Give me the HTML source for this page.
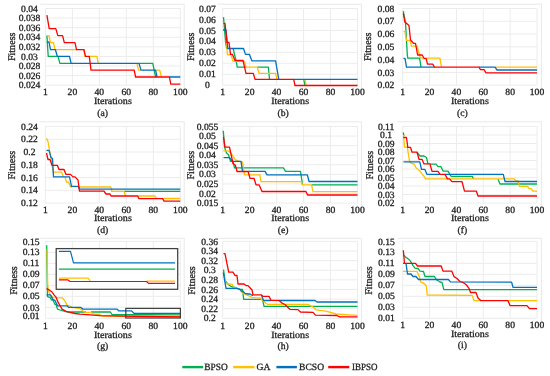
<!DOCTYPE html>
<html><head><meta charset="utf-8"><style>
html,body{margin:0;padding:0;background:#fff;}
body{width:550px;height:376px;overflow:hidden;}
svg{display:block;will-change:transform;}
text{font-family:"Liberation Serif",serif;fill:#1e1e1e;text-rendering:geometricPrecision;stroke:#1e1e1e;stroke-width:0.3px;}
</style></head><body>
<svg width="550" height="376" viewBox="0 0 550 376">
<rect width="550" height="376" fill="#fff"/>
<path d="M40.2 4.2H184.2V95.2" fill="none" stroke="#E8E8E8" stroke-width="1"/>
<path d="M45.4 8.50H180.3M45.4 18.09H180.3M45.4 27.68H180.3M45.4 37.26H180.3M45.4 46.85H180.3M45.4 56.44H180.3M45.4 66.03H180.3M45.4 75.61H180.3M45.4 85.20H180.3M45.40 8.5V85.2M72.38 8.5V85.2M99.36 8.5V85.2M126.34 8.5V85.2M153.32 8.5V85.2M180.30 8.5V85.2" fill="none" stroke="#ECECEC" stroke-width="1"/>
<path d="M46.90 35.60L48.20 56.30L57.30 56.30M58.00 56.30L59.90 63.40L71.10 63.40M139.00 63.40L152.80 63.40L155.60 77.00" fill="none" stroke="#00B050" stroke-width="1.3" stroke-linejoin="round"/>
<path d="M46.90 35.60L49.00 35.60L50.50 42.60L53.50 42.60L55.00 49.70M55.40 49.70L76.50 49.70M83.50 49.70L85.00 56.30L85.50 56.30M89.30 56.30L96.90 56.30L98.30 63.40M137.00 63.40L138.50 70.10L141.00 70.10M155.60 70.10L159.70 70.10L161.50 77.00" fill="none" stroke="#FFC000" stroke-width="1.3" stroke-linejoin="round"/>
<path d="M46.90 42.00L49.00 42.00L50.50 49.70L55.40 49.70L57.30 56.30L69.50 56.30L71.10 63.40L139.00 63.40L141.00 70.10L155.60 70.10L157.00 77.00M169.40 77.00L180.30 77.00" fill="none" stroke="#0070C0" stroke-width="1.3" stroke-linejoin="round"/>
<path d="M46.90 15.20L49.20 28.60L55.80 28.60L57.80 35.60L62.60 35.60L64.30 42.60L75.00 42.60L76.50 49.70L84.00 49.70L85.50 56.30L89.30 56.30L91.00 70.20L134.20 70.20L135.60 77.00L169.40 77.00L170.80 84.20L180.30 84.20" fill="none" stroke="#FF0000" stroke-width="1.3" stroke-linejoin="round"/>
<text x="29.50" y="11.60" font-size="9.6" text-anchor="middle">0.04</text>
<text x="29.50" y="21.19" font-size="9.6" text-anchor="middle">0.038</text>
<text x="29.50" y="30.77" font-size="9.6" text-anchor="middle">0.036</text>
<text x="29.50" y="40.36" font-size="9.6" text-anchor="middle">0.034</text>
<text x="29.50" y="49.95" font-size="9.6" text-anchor="middle">0.032</text>
<text x="29.50" y="59.54" font-size="9.6" text-anchor="middle">0.03</text>
<text x="29.50" y="69.13" font-size="9.6" text-anchor="middle">0.028</text>
<text x="29.50" y="78.71" font-size="9.6" text-anchor="middle">0.026</text>
<text x="29.50" y="88.30" font-size="9.6" text-anchor="middle">0.024</text>
<text x="45.40" y="95.10" font-size="9.6" text-anchor="middle">1</text>
<text x="72.38" y="95.10" font-size="9.6" text-anchor="middle">20</text>
<text x="99.36" y="95.10" font-size="9.6" text-anchor="middle">40</text>
<text x="126.34" y="95.10" font-size="9.6" text-anchor="middle">60</text>
<text x="153.32" y="95.10" font-size="9.6" text-anchor="middle">80</text>
<text x="180.30" y="95.10" font-size="9.6" text-anchor="middle">100</text>
<text x="112.85" y="104.00" font-size="9.7" text-anchor="middle" textLength="37.9" lengthAdjust="spacingAndGlyphs">Iterations</text>
<text x="102.70" y="115.70" font-size="9.7" text-anchor="middle">(a)</text>
<text x="0" y="0" font-size="10.3" text-anchor="middle" textLength="28.6" lengthAdjust="spacingAndGlyphs" transform="translate(15.4,46.8) rotate(-90)">Fitness</text>
<path d="M217.5 4.2H361.4V95.2" fill="none" stroke="#E8E8E8" stroke-width="1"/>
<path d="M222.7 8.50H357.5M222.7 19.46H357.5M222.7 30.41H357.5M222.7 41.37H357.5M222.7 52.33H357.5M222.7 63.29H357.5M222.7 74.24H357.5M222.7 85.20H357.5M222.70 8.5V85.2M249.66 8.5V85.2M276.62 8.5V85.2M303.58 8.5V85.2M330.54 8.5V85.2M357.50 8.5V85.2" fill="none" stroke="#ECECEC" stroke-width="1"/>
<path d="M223.50 17.10L225.50 41.00L226.50 48.20L227.80 48.20M233.00 48.20L236.50 62.70L237.20 67.20L246.00 67.20M257.30 67.20L268.40 67.20L269.50 79.30M303.80 79.30L305.00 85.50" fill="none" stroke="#00B050" stroke-width="1.3" stroke-linejoin="round"/>
<path d="M226.30 40.00L227.50 54.70L230.50 54.70M231.00 54.70L233.00 61.30L244.50 61.30L246.00 67.20L257.30 67.20L259.00 73.40L275.60 73.40L277.00 79.30M305.00 79.30L306.20 85.50" fill="none" stroke="#FFC000" stroke-width="1.3" stroke-linejoin="round"/>
<path d="M223.00 30.00L226.00 30.00L227.80 48.50L243.50 48.50L245.50 54.40L249.50 54.40L252.00 60.90L275.60 60.90L277.50 72.00L278.80 79.30M293.70 79.30L357.50 79.30" fill="none" stroke="#0070C0" stroke-width="1.3" stroke-linejoin="round"/>
<path d="M223.50 23.40L225.00 23.40L227.00 42.40L229.00 42.40L230.50 54.40L232.50 54.40L235.00 60.50L243.00 60.50L246.00 73.40L253.30 73.40L255.00 79.30L293.70 79.30L295.00 85.50L357.50 85.50" fill="none" stroke="#FF0000" stroke-width="1.3" stroke-linejoin="round"/>
<text x="207.50" y="11.60" font-size="9.6" text-anchor="middle">0.07</text>
<text x="207.50" y="22.56" font-size="9.6" text-anchor="middle">0.06</text>
<text x="207.50" y="33.51" font-size="9.6" text-anchor="middle">0.05</text>
<text x="207.50" y="44.47" font-size="9.6" text-anchor="middle">0.04</text>
<text x="207.50" y="55.43" font-size="9.6" text-anchor="middle">0.03</text>
<text x="207.50" y="66.39" font-size="9.6" text-anchor="middle">0.02</text>
<text x="207.50" y="77.34" font-size="9.6" text-anchor="middle">0.01</text>
<text x="207.50" y="88.30" font-size="9.6" text-anchor="middle">0</text>
<text x="222.70" y="95.10" font-size="9.6" text-anchor="middle">1</text>
<text x="249.66" y="95.10" font-size="9.6" text-anchor="middle">20</text>
<text x="276.62" y="95.10" font-size="9.6" text-anchor="middle">40</text>
<text x="303.58" y="95.10" font-size="9.6" text-anchor="middle">60</text>
<text x="330.54" y="95.10" font-size="9.6" text-anchor="middle">80</text>
<text x="357.50" y="95.10" font-size="9.6" text-anchor="middle">100</text>
<text x="290.10" y="104.00" font-size="9.7" text-anchor="middle" textLength="37.9" lengthAdjust="spacingAndGlyphs">Iterations</text>
<text x="283.20" y="115.70" font-size="9.7" text-anchor="middle">(b)</text>
<text x="0" y="0" font-size="10.3" text-anchor="middle" textLength="28.6" lengthAdjust="spacingAndGlyphs" transform="translate(193.9,46.8) rotate(-90)">Fitness</text>
<path d="M397.5 4.2H541.4V95.2" fill="none" stroke="#E8E8E8" stroke-width="1"/>
<path d="M402.7 8.50H537.0M402.7 21.28H537.0M402.7 34.07H537.0M402.7 46.85H537.0M402.7 59.63H537.0M402.7 72.42H537.0M402.7 85.20H537.0M402.70 8.5V85.2M429.56 8.5V85.2M456.42 8.5V85.2M483.28 8.5V85.2M510.14 8.5V85.2M537.00 8.5V85.2" fill="none" stroke="#ECECEC" stroke-width="1"/>
<path d="M403.30 11.10L405.50 22.40L407.30 55.00L407.80 58.20L419.60 58.20L421.00 67.20" fill="none" stroke="#00B050" stroke-width="1.3" stroke-linejoin="round"/>
<path d="M403.50 31.30L405.00 31.30L406.50 40.40L410.00 40.40L411.50 46.20L417.00 46.20L420.30 57.50L422.00 58.20L424.00 58.20M426.10 58.20L439.90 58.20L441.50 67.20M495.00 67.20L537.00 67.20" fill="none" stroke="#FFC000" stroke-width="1.3" stroke-linejoin="round"/>
<path d="M403.50 58.30L405.00 58.30L406.50 67.20L434.50 67.20M479.10 67.20L495.00 67.20L497.00 70.00L537.00 70.00" fill="none" stroke="#0070C0" stroke-width="1.3" stroke-linejoin="round"/>
<path d="M403.30 13.30L404.80 22.00L407.00 23.80L409.00 25.60L410.50 40.00L412.00 41.50L413.50 43.30L415.50 43.30L417.60 55.00L422.20 55.00L424.00 58.30L426.10 58.30L427.50 64.20L432.70 64.20L434.50 67.20L479.10 67.20L480.50 69.70L484.00 69.70L486.00 72.90L537.00 72.90" fill="none" stroke="#FF0000" stroke-width="1.3" stroke-linejoin="round"/>
<text x="386.00" y="11.60" font-size="9.6" text-anchor="middle">0.08</text>
<text x="386.00" y="24.38" font-size="9.6" text-anchor="middle">0.07</text>
<text x="386.00" y="37.17" font-size="9.6" text-anchor="middle">0.06</text>
<text x="386.00" y="49.95" font-size="9.6" text-anchor="middle">0.05</text>
<text x="386.00" y="62.73" font-size="9.6" text-anchor="middle">0.04</text>
<text x="386.00" y="75.52" font-size="9.6" text-anchor="middle">0.03</text>
<text x="386.00" y="88.30" font-size="9.6" text-anchor="middle">0.02</text>
<text x="402.70" y="95.10" font-size="9.6" text-anchor="middle">1</text>
<text x="429.56" y="95.10" font-size="9.6" text-anchor="middle">20</text>
<text x="456.42" y="95.10" font-size="9.6" text-anchor="middle">40</text>
<text x="483.28" y="95.10" font-size="9.6" text-anchor="middle">60</text>
<text x="510.14" y="95.10" font-size="9.6" text-anchor="middle">80</text>
<text x="537.00" y="95.10" font-size="9.6" text-anchor="middle">100</text>
<text x="469.85" y="104.00" font-size="9.7" text-anchor="middle" textLength="37.9" lengthAdjust="spacingAndGlyphs">Iterations</text>
<text x="462.40" y="115.70" font-size="9.7" text-anchor="middle">(c)</text>
<text x="0" y="0" font-size="10.3" text-anchor="middle" textLength="28.6" lengthAdjust="spacingAndGlyphs" transform="translate(371.1,46.8) rotate(-90)">Fitness</text>
<path d="M40.2 121.8H184.2V213.1" fill="none" stroke="#E8E8E8" stroke-width="1"/>
<path d="M45.4 126.50H180.3M45.4 139.27H180.3M45.4 152.03H180.3M45.4 164.80H180.3M45.4 177.57H180.3M45.4 190.33H180.3M45.4 203.10H180.3M45.40 126.5V203.1M72.38 126.5V203.1M99.36 126.5V203.1M126.34 126.5V203.1M153.32 126.5V203.1M180.30 126.5V203.1" fill="none" stroke="#ECECEC" stroke-width="1"/>
<path d="M111.50 191.40L112.00 191.40M124.00 191.40L180.30 191.40" fill="none" stroke="#00B050" stroke-width="1.3" stroke-linejoin="round"/>
<path d="M46.50 138.40L48.00 141.50L49.50 150.40L51.00 157.00L52.00 165.30L53.50 172.20L61.50 172.20L63.50 176.90M65.00 176.90L66.50 182.00L68.50 182.00L70.50 187.00L71.50 187.00M78.00 187.00L110.70 187.00L112.00 191.30L124.00 191.30L125.50 196.00M137.70 196.00L155.00 196.00L156.50 198.50M162.60 198.50L180.30 198.50" fill="none" stroke="#FFC000" stroke-width="1.3" stroke-linejoin="round"/>
<path d="M46.50 150.40L49.00 150.40L51.00 157.60L52.50 158.50L53.50 176.90L69.50 176.90L71.50 186.40L78.00 186.40L79.50 189.20L180.30 189.20" fill="none" stroke="#0070C0" stroke-width="1.3" stroke-linejoin="round"/>
<path d="M46.50 153.00L48.00 159.50L50.00 159.50L52.00 165.30L57.30 165.30L59.00 169.50L64.00 169.50L66.00 174.40L70.50 174.40L73.00 176.90L75.00 176.90L78.00 180.00L79.50 191.20L104.00 191.20L106.00 194.00L110.00 194.00L111.00 196.00L137.70 196.00L139.00 198.70L162.60 198.70L164.00 201.10L180.30 201.10" fill="none" stroke="#FF0000" stroke-width="1.3" stroke-linejoin="round"/>
<text x="29.50" y="129.60" font-size="9.6" text-anchor="middle">0.24</text>
<text x="29.50" y="142.37" font-size="9.6" text-anchor="middle">0.22</text>
<text x="29.50" y="155.13" font-size="9.6" text-anchor="middle">0.2</text>
<text x="29.50" y="167.90" font-size="9.6" text-anchor="middle">0.18</text>
<text x="29.50" y="180.67" font-size="9.6" text-anchor="middle">0.16</text>
<text x="29.50" y="193.43" font-size="9.6" text-anchor="middle">0.14</text>
<text x="29.50" y="206.20" font-size="9.6" text-anchor="middle">0.12</text>
<text x="45.40" y="212.80" font-size="9.6" text-anchor="middle">1</text>
<text x="72.38" y="212.80" font-size="9.6" text-anchor="middle">20</text>
<text x="99.36" y="212.80" font-size="9.6" text-anchor="middle">40</text>
<text x="126.34" y="212.80" font-size="9.6" text-anchor="middle">60</text>
<text x="153.32" y="212.80" font-size="9.6" text-anchor="middle">80</text>
<text x="180.30" y="212.80" font-size="9.6" text-anchor="middle">100</text>
<text x="112.85" y="220.60" font-size="9.7" text-anchor="middle" textLength="37.9" lengthAdjust="spacingAndGlyphs">Iterations</text>
<text x="102.70" y="232.50" font-size="9.7" text-anchor="middle">(d)</text>
<text x="0" y="0" font-size="10.3" text-anchor="middle" textLength="28.6" lengthAdjust="spacingAndGlyphs" transform="translate(14.8,165.2) rotate(-90)">Fitness</text>
<path d="M217.5 121.8H361.4V213.1" fill="none" stroke="#E8E8E8" stroke-width="1"/>
<path d="M222.7 126.50H357.5M222.7 136.07H357.5M222.7 145.65H357.5M222.7 155.22H357.5M222.7 164.80H357.5M222.7 174.38H357.5M222.7 183.95H357.5M222.7 193.52H357.5M222.7 203.10H357.5M222.70 126.5V203.1M249.66 126.5V203.1M276.62 126.5V203.1M303.58 126.5V203.1M330.54 126.5V203.1M357.50 126.5V203.1" fill="none" stroke="#ECECEC" stroke-width="1"/>
<path d="M223.30 130.70L224.50 147.10L226.50 153.00L228.50 154.70L230.50 161.30L232.50 161.30M233.00 161.30L234.50 167.80L283.40 167.80L285.50 171.40L300.50 171.40L302.50 184.90M311.60 184.90L357.50 184.90" fill="none" stroke="#00B050" stroke-width="1.3" stroke-linejoin="round"/>
<path d="M223.30 150.90L228.50 150.90L232.00 154.70L235.50 159.80L240.00 161.60L242.50 162.00L244.50 174.80L259.90 174.80L261.00 181.60L301.20 181.60L302.50 184.90L311.60 184.90L313.00 191.60L357.50 191.60" fill="none" stroke="#FFC000" stroke-width="1.3" stroke-linejoin="round"/>
<path d="M223.50 157.60L229.50 157.60L232.50 161.30L241.00 161.30L242.50 171.40M248.10 171.40L265.10 171.40L267.00 174.90L307.40 174.90L309.00 181.50L357.50 181.50" fill="none" stroke="#0070C0" stroke-width="1.3" stroke-linejoin="round"/>
<path d="M223.50 136.90L225.00 147.10L229.50 147.10L233.00 163.50L235.50 165.60L237.00 171.50L248.10 171.50L250.00 178.30L254.00 178.30L256.00 184.80L259.00 184.80L262.00 191.50L306.00 191.50L307.50 195.00L357.50 195.00" fill="none" stroke="#FF0000" stroke-width="1.3" stroke-linejoin="round"/>
<text x="207.50" y="129.60" font-size="9.6" text-anchor="middle">0.055</text>
<text x="207.50" y="139.17" font-size="9.6" text-anchor="middle">0.05</text>
<text x="207.50" y="148.75" font-size="9.6" text-anchor="middle">0.045</text>
<text x="207.50" y="158.32" font-size="9.6" text-anchor="middle">0.04</text>
<text x="207.50" y="167.90" font-size="9.6" text-anchor="middle">0.035</text>
<text x="207.50" y="177.47" font-size="9.6" text-anchor="middle">0.03</text>
<text x="207.50" y="187.05" font-size="9.6" text-anchor="middle">0.025</text>
<text x="207.50" y="196.62" font-size="9.6" text-anchor="middle">0.02</text>
<text x="207.50" y="206.20" font-size="9.6" text-anchor="middle">0.015</text>
<text x="222.70" y="213.40" font-size="9.6" text-anchor="middle">1</text>
<text x="249.66" y="213.40" font-size="9.6" text-anchor="middle">20</text>
<text x="276.62" y="213.40" font-size="9.6" text-anchor="middle">40</text>
<text x="303.58" y="213.40" font-size="9.6" text-anchor="middle">60</text>
<text x="330.54" y="213.40" font-size="9.6" text-anchor="middle">80</text>
<text x="357.50" y="213.40" font-size="9.6" text-anchor="middle">100</text>
<text x="290.10" y="221.20" font-size="9.7" text-anchor="middle" textLength="37.9" lengthAdjust="spacingAndGlyphs">Iterations</text>
<text x="283.20" y="233.10" font-size="9.7" text-anchor="middle">(e)</text>
<text x="0" y="0" font-size="10.3" text-anchor="middle" textLength="28.6" lengthAdjust="spacingAndGlyphs" transform="translate(193.9,165.2) rotate(-90)">Fitness</text>
<path d="M397.5 121.8H541.4V213.1" fill="none" stroke="#E8E8E8" stroke-width="1"/>
<path d="M402.7 126.50H537.0M402.7 135.01H537.0M402.7 143.52H537.0M402.7 152.03H537.0M402.7 160.54H537.0M402.7 169.06H537.0M402.7 177.57H537.0M402.7 186.08H537.0M402.7 194.59H537.0M402.7 203.10H537.0M402.70 126.5V203.1M429.56 126.5V203.1M456.42 126.5V203.1M483.28 126.5V203.1M510.14 126.5V203.1M537.00 126.5V203.1" fill="none" stroke="#ECECEC" stroke-width="1"/>
<path d="M403.30 132.40L403.90 136.20M417.00 152.20L420.00 156.00L424.00 156.00L426.50 157.50L428.00 164.10M430.00 164.10L436.00 164.10L438.00 166.70L441.00 166.70L443.00 171.10L448.00 171.10L451.00 176.30L472.20 176.30L473.50 179.00M498.00 179.00L500.00 184.00L537.00 184.00" fill="none" stroke="#00B050" stroke-width="1.3" stroke-linejoin="round"/>
<path d="M403.50 134.90L404.50 147.10L407.30 147.10L409.50 161.00L411.50 163.50L414.00 163.90L416.00 167.80L420.00 171.10L424.00 176.30L425.50 178.90L447.50 178.90M449.50 178.90L514.30 178.90L515.50 180.80L518.00 180.80L519.50 186.30L527.50 186.30L529.00 188.70L531.00 188.70L533.00 191.10L537.00 191.10" fill="none" stroke="#FFC000" stroke-width="1.3" stroke-linejoin="round"/>
<path d="M403.50 161.90L419.80 161.90L421.50 169.30L424.80 169.30L427.00 174.40L440.00 174.40M445.00 174.40L503.30 174.40L505.00 181.50L537.00 181.50" fill="none" stroke="#0070C0" stroke-width="1.3" stroke-linejoin="round"/>
<path d="M403.30 137.50L406.50 137.50L407.80 147.30L410.50 147.30L412.00 152.20L417.00 152.20L419.00 159.30L422.00 159.30L424.00 163.90L430.00 163.90L432.00 171.40L438.00 171.40L440.00 174.40L445.00 174.40L447.50 178.90L449.50 178.90L452.00 181.60L462.00 181.60L464.50 191.20L476.40 191.20L478.00 196.00L537.00 196.00" fill="none" stroke="#FF0000" stroke-width="1.3" stroke-linejoin="round"/>
<text x="386.10" y="129.60" font-size="9.6" text-anchor="middle">0.11</text>
<text x="386.10" y="138.11" font-size="9.6" text-anchor="middle">0.1</text>
<text x="386.10" y="146.62" font-size="9.6" text-anchor="middle">0.09</text>
<text x="386.10" y="155.13" font-size="9.6" text-anchor="middle">0.08</text>
<text x="386.10" y="163.64" font-size="9.6" text-anchor="middle">0.07</text>
<text x="386.10" y="172.16" font-size="9.6" text-anchor="middle">0.06</text>
<text x="386.10" y="180.67" font-size="9.6" text-anchor="middle">0.05</text>
<text x="386.10" y="189.18" font-size="9.6" text-anchor="middle">0.04</text>
<text x="386.10" y="197.69" font-size="9.6" text-anchor="middle">0.03</text>
<text x="386.10" y="206.20" font-size="9.6" text-anchor="middle">0.02</text>
<text x="402.70" y="213.40" font-size="9.6" text-anchor="middle">1</text>
<text x="429.56" y="213.40" font-size="9.6" text-anchor="middle">20</text>
<text x="456.42" y="213.40" font-size="9.6" text-anchor="middle">40</text>
<text x="483.28" y="213.40" font-size="9.6" text-anchor="middle">60</text>
<text x="510.14" y="213.40" font-size="9.6" text-anchor="middle">80</text>
<text x="537.00" y="213.40" font-size="9.6" text-anchor="middle">100</text>
<text x="469.85" y="221.20" font-size="9.7" text-anchor="middle" textLength="37.9" lengthAdjust="spacingAndGlyphs">Iterations</text>
<text x="462.40" y="233.10" font-size="9.7" text-anchor="middle">(f)</text>
<text x="0" y="0" font-size="10.3" text-anchor="middle" textLength="28.6" lengthAdjust="spacingAndGlyphs" transform="translate(372.5,165.2) rotate(-90)">Fitness</text>
<path d="M40.2 238.3H184.2V328.3" fill="none" stroke="#E8E8E8" stroke-width="1"/>
<path d="M45.4 241.40H180.3M45.4 252.39H180.3M45.4 263.37H180.3M45.4 274.36H180.3M45.4 285.34H180.3M45.4 296.33H180.3M45.4 307.31H180.3M45.4 318.30H180.3M45.40 241.4V318.3M72.38 241.4V318.3M99.36 241.4V318.3M126.34 241.4V318.3M153.32 241.4V318.3M180.30 241.4V318.3" fill="none" stroke="#ECECEC" stroke-width="1"/>
<path d="M46.70 245.20L47.50 296.50L48.50 297.10L50.00 297.10L51.50 300.00L53.00 300.00L55.00 304.40L56.00 304.40L57.50 309.10L60.00 310.00L64.00 311.20L68.00 312.00L86.00 312.00M91.00 312.00L110.40 312.00L112.00 314.50L180.30 314.80" fill="none" stroke="#00B050" stroke-width="1.3" stroke-linejoin="round"/>
<path d="M47.00 249.00L47.70 285.00L48.50 291.30L50.50 294.90L53.00 297.60L62.50 297.80L65.00 301.10L67.00 305.10L70.00 306.20L72.00 307.30L80.00 308.70L81.00 309.50L83.50 311.60L86.00 312.40L91.00 312.40L93.00 313.80L100.00 314.50L102.00 316.00L180.30 316.40" fill="none" stroke="#FFC000" stroke-width="1.3" stroke-linejoin="round"/>
<path d="M46.50 294.90L50.50 294.90L53.00 299.60L55.00 300.40L57.50 305.80L67.00 305.80L68.50 307.30L80.50 307.30L83.00 309.10L116.80 309.10L119.00 310.90L131.50 310.90L134.00 313.30L180.30 313.30" fill="none" stroke="#0070C0" stroke-width="1.3" stroke-linejoin="round"/>
<path d="M46.50 288.70L49.00 289.80L52.00 292.00L54.00 294.90L56.00 297.10L58.00 302.20L60.50 306.50L62.00 309.10L66.00 311.30L70.00 312.40L75.00 313.50L80.00 314.20L90.00 314.90L100.00 315.60L146.60 316.50L180.30 316.80" fill="none" stroke="#FF0000" stroke-width="1.3" stroke-linejoin="round"/>
<rect x="56.2" y="248.6" width="121.5" height="40.7" fill="#fff" stroke="#404040" stroke-width="1.25"/>
<path d="M58.90 269.10L175.00 269.10" fill="none" stroke="#00B050" stroke-width="1.2" stroke-linejoin="round"/>
<path d="M58.90 278.10L88.30 278.10L90.10 281.10M146.60 281.10L175.00 281.10" fill="none" stroke="#FFC000" stroke-width="1.2" stroke-linejoin="round"/>
<path d="M58.90 251.30L70.50 251.30L73.50 262.90L175.00 262.90" fill="none" stroke="#0070C0" stroke-width="1.2" stroke-linejoin="round"/>
<path d="M58.90 279.80L67.60 279.80L70.10 281.50L146.60 281.50L148.50 283.40L175.00 283.40" fill="none" stroke="#FF0000" stroke-width="1.2" stroke-linejoin="round"/>
<rect x="125.8" y="308.4" width="54.6" height="9.6" fill="none" stroke="#404040" stroke-width="1.2"/>
<text x="31.10" y="244.50" font-size="9.6" text-anchor="middle">0.15</text>
<text x="31.10" y="255.49" font-size="9.6" text-anchor="middle">0.13</text>
<text x="31.10" y="266.47" font-size="9.6" text-anchor="middle">0.11</text>
<text x="31.10" y="277.46" font-size="9.6" text-anchor="middle">0.09</text>
<text x="31.10" y="288.44" font-size="9.6" text-anchor="middle">0.07</text>
<text x="31.10" y="299.43" font-size="9.6" text-anchor="middle">0.05</text>
<text x="31.10" y="311.00" font-size="9.6" text-anchor="middle">0.03</text>
<text x="31.10" y="319.30" font-size="9.6" text-anchor="middle">0.01</text>
<text x="45.40" y="328.70" font-size="9.6" text-anchor="middle">1</text>
<text x="72.38" y="328.70" font-size="9.6" text-anchor="middle">20</text>
<text x="99.36" y="328.70" font-size="9.6" text-anchor="middle">40</text>
<text x="126.34" y="328.70" font-size="9.6" text-anchor="middle">60</text>
<text x="153.32" y="328.70" font-size="9.6" text-anchor="middle">80</text>
<text x="180.30" y="328.70" font-size="9.6" text-anchor="middle">100</text>
<text x="112.85" y="337.80" font-size="9.7" text-anchor="middle" textLength="37.9" lengthAdjust="spacingAndGlyphs">Iterations</text>
<text x="102.70" y="348.90" font-size="9.7" text-anchor="middle">(g)</text>
<text x="0" y="0" font-size="10.3" text-anchor="middle" textLength="28.6" lengthAdjust="spacingAndGlyphs" transform="translate(16.9,280.5) rotate(-90)">Fitness</text>
<path d="M217.5 238.3H361.4V328.3" fill="none" stroke="#E8E8E8" stroke-width="1"/>
<path d="M222.7 241.40H357.5M222.7 251.01H357.5M222.7 260.62H357.5M222.7 270.24H357.5M222.7 279.85H357.5M222.7 289.46H357.5M222.7 299.07H357.5M222.7 308.69H357.5M222.7 318.30H357.5M222.70 241.4V318.3M249.66 241.4V318.3M276.62 241.4V318.3M303.58 241.4V318.3M330.54 241.4V318.3M357.50 241.4V318.3" fill="none" stroke="#ECECEC" stroke-width="1"/>
<path d="M223.50 269.60L225.00 280.50L228.00 284.20L231.00 286.40L235.00 287.50L240.00 289.30L242.50 289.30L243.70 299.30L262.50 299.30L264.00 306.30L357.50 306.30" fill="none" stroke="#00B050" stroke-width="1.3" stroke-linejoin="round"/>
<path d="M224.50 276.90L226.00 283.50L230.00 284.20L232.00 284.20L234.00 287.30L236.00 288.00L240.00 290.00L242.00 292.50L244.00 294.00L249.00 295.80L252.00 297.30L256.00 297.80L260.00 297.80L263.00 300.80L266.00 303.50L268.00 304.40L308.10 304.40L313.00 307.10L316.00 309.80L326.00 311.20L336.00 314.00L345.00 314.70L357.50 315.40" fill="none" stroke="#FFC000" stroke-width="1.3" stroke-linejoin="round"/>
<path d="M223.30 272.50L226.00 288.30L237.00 288.30L240.00 289.30L241.50 291.10L243.00 291.50L245.00 293.30L248.00 294.00L250.00 294.00L252.00 295.30L253.00 295.30M261.00 295.30L261.50 295.30L263.50 300.50L271.00 300.50M279.00 300.50L315.00 300.50L317.00 302.00L357.50 302.00" fill="none" stroke="#0070C0" stroke-width="1.3" stroke-linejoin="round"/>
<path d="M223.50 253.70L225.00 253.70L228.70 272.20L233.00 272.20L235.00 275.50L237.00 275.50L238.00 284.00L244.00 284.00L246.00 285.60L248.00 285.60L250.00 287.80L252.00 290.00L253.00 294.90L261.00 294.90L263.00 296.30L269.00 296.30L271.00 300.40L279.00 300.40L282.00 303.10L285.00 304.50L288.00 307.50L290.00 309.30L298.00 309.60L300.50 312.00L313.00 312.30L315.50 315.20L337.00 315.50L339.50 316.80L357.50 316.80" fill="none" stroke="#FF0000" stroke-width="1.3" stroke-linejoin="round"/>
<text x="209.70" y="244.50" font-size="9.6" text-anchor="middle">0.36</text>
<text x="209.70" y="254.11" font-size="9.6" text-anchor="middle">0.34</text>
<text x="209.70" y="263.72" font-size="9.6" text-anchor="middle">0.32</text>
<text x="209.70" y="273.34" font-size="9.6" text-anchor="middle">0.3</text>
<text x="209.70" y="282.95" font-size="9.6" text-anchor="middle">0.28</text>
<text x="209.70" y="292.56" font-size="9.6" text-anchor="middle">0.26</text>
<text x="209.70" y="302.17" font-size="9.6" text-anchor="middle">0.24</text>
<text x="209.70" y="311.79" font-size="9.6" text-anchor="middle">0.22</text>
<text x="209.70" y="321.40" font-size="9.6" text-anchor="middle">0.2</text>
<text x="222.70" y="328.70" font-size="9.6" text-anchor="middle">1</text>
<text x="249.66" y="328.70" font-size="9.6" text-anchor="middle">20</text>
<text x="276.62" y="328.70" font-size="9.6" text-anchor="middle">40</text>
<text x="303.58" y="328.70" font-size="9.6" text-anchor="middle">60</text>
<text x="330.54" y="328.70" font-size="9.6" text-anchor="middle">80</text>
<text x="357.50" y="328.70" font-size="9.6" text-anchor="middle">100</text>
<text x="290.10" y="337.80" font-size="9.7" text-anchor="middle" textLength="37.9" lengthAdjust="spacingAndGlyphs">Iterations</text>
<text x="283.20" y="348.90" font-size="9.7" text-anchor="middle">(h)</text>
<text x="0" y="0" font-size="10.3" text-anchor="middle" textLength="28.6" lengthAdjust="spacingAndGlyphs" transform="translate(195.4,280.5) rotate(-90)">Fitness</text>
<path d="M397.5 238.3H541.4V328.3" fill="none" stroke="#E8E8E8" stroke-width="1"/>
<path d="M402.7 241.40H537.0M402.7 252.39H537.0M402.7 263.37H537.0M402.7 274.36H537.0M402.7 285.34H537.0M402.7 296.33H537.0M402.7 307.31H537.0M402.7 318.30H537.0M402.70 241.4V318.3M429.56 241.4V318.3M456.42 241.4V318.3M483.28 241.4V318.3M510.14 241.4V318.3M537.00 241.4V318.3" fill="none" stroke="#ECECEC" stroke-width="1"/>
<path d="M403.70 254.90L405.50 257.10L407.00 258.00L409.50 260.00L411.00 262.20L413.00 265.60L415.00 268.20L418.00 268.50L420.00 271.10L423.50 271.50L425.00 276.50L434.50 276.50L436.50 279.80L440.00 282.00L442.00 282.40L443.80 289.70L537.00 289.70" fill="none" stroke="#00B050" stroke-width="1.3" stroke-linejoin="round"/>
<path d="M403.00 271.30L417.00 271.40L419.50 277.20L420.50 281.80L423.50 283.10L426.30 285.70L427.20 295.00L472.20 295.40L474.00 300.70L481.00 300.70M508.00 300.70L537.00 300.70" fill="none" stroke="#FFC000" stroke-width="1.3" stroke-linejoin="round"/>
<path d="M403.00 263.30L404.50 263.30M406.00 263.30L407.50 274.00L411.00 274.00L413.00 276.50L416.00 276.50L418.50 279.50L448.40 279.50L450.50 281.90L511.60 282.10L513.00 287.30L537.00 287.30" fill="none" stroke="#0070C0" stroke-width="1.3" stroke-linejoin="round"/>
<path d="M403.30 250.20L404.50 263.30L415.50 263.30L417.50 266.00L441.20 266.00L443.00 271.10L451.70 271.10L454.00 276.60L457.00 278.50L460.00 281.50L463.00 282.50L466.00 284.50L469.00 288.30L470.50 292.50L476.00 292.50L478.00 298.00L481.00 300.70L508.00 300.70L510.00 305.60L527.00 305.60L529.50 308.60L537.00 308.60" fill="none" stroke="#FF0000" stroke-width="1.3" stroke-linejoin="round"/>
<text x="386.40" y="244.50" font-size="9.6" text-anchor="middle">0.15</text>
<text x="386.40" y="255.49" font-size="9.6" text-anchor="middle">0.13</text>
<text x="386.40" y="266.47" font-size="9.6" text-anchor="middle">0.11</text>
<text x="386.40" y="277.46" font-size="9.6" text-anchor="middle">0.09</text>
<text x="386.40" y="288.44" font-size="9.6" text-anchor="middle">0.07</text>
<text x="386.40" y="299.43" font-size="9.6" text-anchor="middle">0.05</text>
<text x="386.40" y="310.41" font-size="9.6" text-anchor="middle">0.03</text>
<text x="386.40" y="321.40" font-size="9.6" text-anchor="middle">0.01</text>
<text x="402.70" y="327.70" font-size="9.6" text-anchor="middle">1</text>
<text x="429.56" y="327.70" font-size="9.6" text-anchor="middle">20</text>
<text x="456.42" y="327.70" font-size="9.6" text-anchor="middle">40</text>
<text x="483.28" y="327.70" font-size="9.6" text-anchor="middle">60</text>
<text x="510.14" y="327.70" font-size="9.6" text-anchor="middle">80</text>
<text x="537.00" y="327.70" font-size="9.6" text-anchor="middle">100</text>
<text x="469.85" y="336.80" font-size="9.7" text-anchor="middle" textLength="37.9" lengthAdjust="spacingAndGlyphs">Iterations</text>
<text x="462.40" y="347.90" font-size="9.7" text-anchor="middle">(i)</text>
<text x="0" y="0" font-size="10.3" text-anchor="middle" textLength="28.6" lengthAdjust="spacingAndGlyphs" transform="translate(372.4,280.5) rotate(-90)">Fitness</text>
<path d="M182.3 367.1H203.2" stroke="#00B050" stroke-width="2.4"/>
<text x="204.30" y="369.90" font-size="9.6" text-anchor="start" textLength="23.4" lengthAdjust="spacingAndGlyphs">BPSO</text>
<path d="M233.2 367.1H254.5" stroke="#FFC000" stroke-width="2.4"/>
<text x="256.60" y="369.90" font-size="9.6" text-anchor="start" textLength="13.9" lengthAdjust="spacingAndGlyphs">GA</text>
<path d="M276.4 367.1H296.9" stroke="#0070C0" stroke-width="2.4"/>
<text x="299.10" y="369.90" font-size="9.6" text-anchor="start" textLength="25.0" lengthAdjust="spacingAndGlyphs">BCSO</text>
<path d="M328.2 367.1H349.3" stroke="#FF0000" stroke-width="2.4"/>
<text x="351.90" y="369.90" font-size="9.6" text-anchor="start" textLength="25.5" lengthAdjust="spacingAndGlyphs">IBPSO</text>
</svg>
</body></html>
